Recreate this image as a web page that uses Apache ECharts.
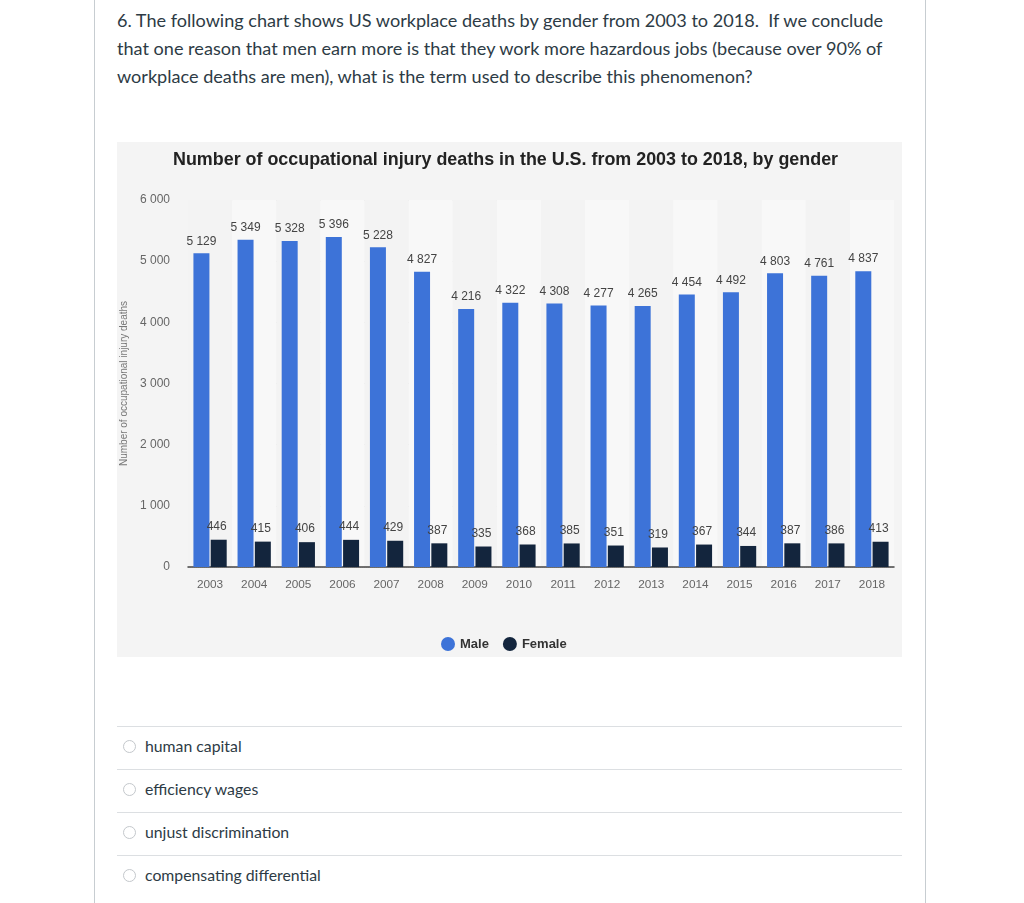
<!DOCTYPE html>
<html>
<head>
<meta charset="utf-8">
<script src="https://cdn.jsdelivr.net/npm/echarts@6/dist/echarts.min.js"></script>
<style>
  html, body { margin: 0; padding: 0; background: #fff; }
  body { width: 1024px; height: 903px; position: relative; overflow: hidden; font-family: Lato, "Noto Sans", sans-serif; color: #2d3b45; }
  .vline { position: absolute; top: 0; bottom: 0; width: 1px; background: #c7cdd1; }
  #q { position: absolute; left: 117px; top: 6px; width: 778px; font-size: 18.1px; line-height: 28px; }
  #chart { position: absolute; left: 117px; top: 142px; width: 785px; height: 515px; background: #f4f4f4; }
  .sep { position: absolute; left: 117px; width: 785px; height: 1px; background: #dcdfe2; }
  .opt { position: absolute; left: 145px; font-size: 15.8px; line-height: 20px; }
  .radio { position: absolute; left: 123px; width: 11px; height: 11px; border: 1px solid #c4c8cc; border-radius: 50%; background: #fff; }
</style>
</head>
<body>
<div class="vline" style="left:94px"></div>
<div class="vline" style="left:925px"></div>
<div id="q">6. The following chart shows US workplace deaths by gender from 2003 to 2018.&nbsp; If we conclude that one reason that men earn more is that they work more hazardous jobs (because over 90% of workplace deaths are men), what is the term used to describe this phenomenon?</div>
<div id="chart"></div>
<div class="sep" style="top:726px"></div>
<div class="radio" style="top:740px"></div><div class="opt" style="top:736px">human capital</div>
<div class="sep" style="top:769px"></div>
<div class="radio" style="top:783px"></div><div class="opt" style="top:779px">efficiency wages</div>
<div class="sep" style="top:812px"></div>
<div class="radio" style="top:826px"></div><div class="opt" style="top:822px">unjust discrimination</div>
<div class="sep" style="top:855px"></div>
<div class="radio" style="top:869px"></div><div class="opt" style="top:865px">compensating differential</div>
<script>
const years = ['2003','2004','2005','2006','2007','2008','2009','2010','2011','2012','2013','2014','2015','2016','2017','2018'];
const male = [5129,5349,5328,5396,5228,4827,4216,4322,4308,4277,4265,4454,4492,4803,4761,4837];
const female = [446,415,406,444,429,387,335,368,385,351,319,367,344,387,386,413];
const yTicks = [0,1000,2000,3000,4000,5000,6000];

const fmt = v => String(v).replace(/\B(?=(\d{3})+(?!\d))/g, ' ');
const font = '"Liberation Sans", Arial, sans-serif';
const chart = echarts.init(document.getElementById('chart'));
chart.setOption({
  backgroundColor: '#f4f4f4',
  animation: false,
  textStyle: { fontFamily: font },
  title: {
    text: 'Number of occupational injury deaths in the U.S. from 2003 to 2018, by gender',
    left: 51, top: 4,
    textStyle: { fontFamily: font, fontSize: 17.9, fontWeight: 'bold', color: '#222' }
  },
  legend: {
    data: ['Male', 'Female'],
    left: 319, top: 490,
    icon: 'circle', itemWidth: 14, itemHeight: 14, itemGap: 14,
    textStyle: { fontFamily: font, fontSize: 13, fontWeight: 'bold', color: '#333' }
  },
  grid: { left: 71, right: 8, top: 58, bottom: 90, containLabel: false, outerBoundsMode: 'none' },
  xAxis: {
    type: 'category', data: years,
    axisLine: { lineStyle: { color: '#444', width: 1.5 } },
    axisTick: { show: false },
    axisLabel: { color: '#666', fontSize: 11.8, margin: 12, fontFamily: font },
    splitArea: { show: true, areaStyle: { color: ['#f3f3f3', '#f8f8f8'] } }
  },
  yAxis: {
    type: 'value', min: yTicks[0], max: yTicks[yTicks.length - 1], interval: 1000,
    name: 'Number of occupational injury deaths',
    nameLocation: 'middle', nameGap: 44,
    nameTextStyle: { color: '#777', fontSize: 10, fontFamily: font },
    axisLine: { show: false }, axisTick: { show: false },
    axisLabel: { color: '#666', fontSize: 12, margin: 18, formatter: v => fmt(v), fontFamily: font },
    splitLine: { lineStyle: { color: '#dedede', type: 'dotted' } }
  },
  series: [
    {
      name: 'Male', type: 'bar', data: male, barWidth: 16, barGap: '8%',
      itemStyle: { color: '#3d73d8' },
      label: { show: true, position: 'top', distance: 6, color: '#444', fontSize: 12, formatter: p => fmt(p.value), fontFamily: font }
    },
    {
      name: 'Female', type: 'bar', data: female, barWidth: 16,
      itemStyle: { color: '#13253d' },
      label: { show: true, position: 'top', distance: 7, offset: [-2, 0], color: '#444', fontSize: 12, formatter: p => fmt(p.value), fontFamily: font }
    }
  ]
});
</script>
</body>
</html>
